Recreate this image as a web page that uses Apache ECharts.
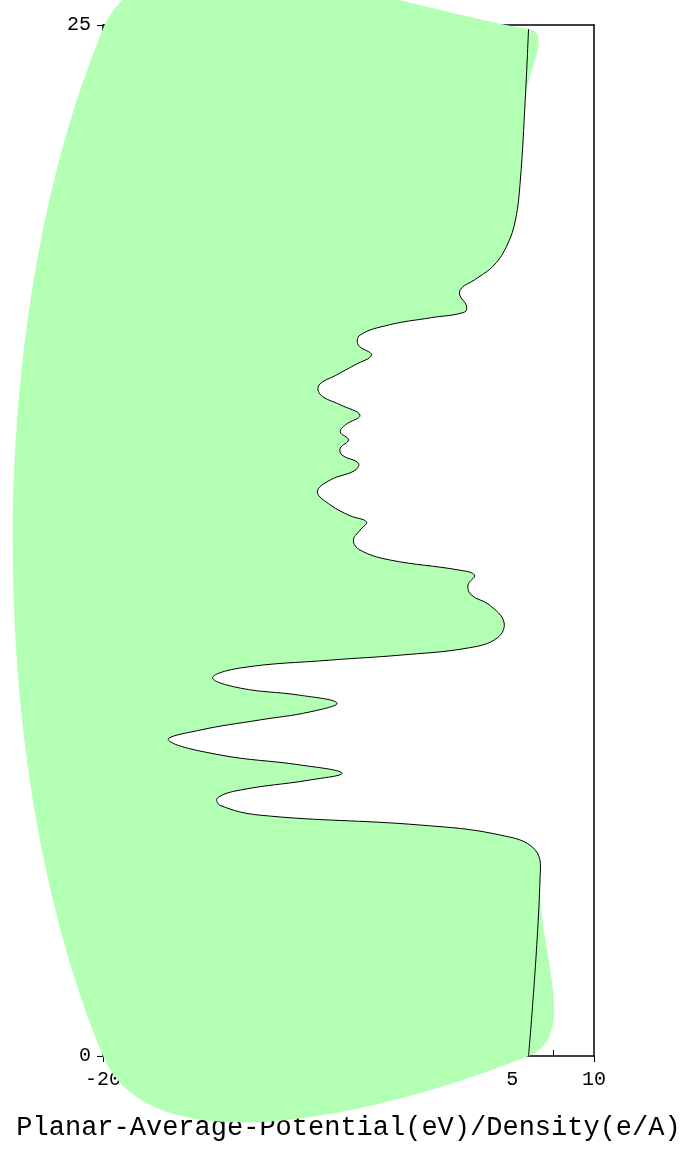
<!DOCTYPE html>
<html>
<head>
<meta charset="UTF-8" />
<script src="https://cdn.jsdelivr.net/npm/echarts@6/dist/echarts.min.js"></script>
<style>html,body{margin:0;padding:0;background:#fff}</style>
</head>
<body>
<div id="main" style="width:686px;height:1158px;"></div>
<script>
var chart = echarts.init(document.getElementById('main'));

// distance (A) and potential (eV)
var distance = [0, 4.27, 5.0, 5.36, 5.6, 5.84, 6.08, 6.26, 6.45, 6.69, 6.86, 7.06, 7.3, 7.66, 7.9, 8.15, 8.34, 8.56, 8.75, 8.92, 9.17, 9.41, 9.6, 9.72, 9.9, 10.14, 10.52, 10.94, 11.18, 11.42, 11.66, 11.78, 12.03, 12.27, 12.5, 12.75, 12.95, 13.1, 13.36, 13.68, 13.97, 14.2, 14.38, 14.57, 14.74, 14.94, 15.13, 15.3, 15.54, 15.79, 16.03, 16.27, 16.5, 16.76, 17.0, 17.24, 17.48, 17.73, 17.9, 18.04, 18.2, 18.45, 18.62, 18.82, 19.18, 19.67, 20.27, 21.24, 23.2, 24.9];
var potential = [6.0, 6.7, 6.4, 4.25, -0.6, -10.4, -12.85, -13.0, -11.6, -7.4, -5.4, -8.0, -12.85, -16.0, -14.1, -10.4, -7.4, -5.7, -8.0, -11.6, -13.3, -11.6, -6.1, -1.85, 2.4, 4.1, 4.5, 3.6, 2.5, 2.3, 2.7, 1.8, -2.5, -4.3, -4.7, -4.3, -3.9, -4.9, -6.1, -6.9, -6.1, -4.6, -4.4, -5.4, -5.5, -5.0, -5.5, -5.2, -4.3, -5.5, -6.7, -6.8, -5.8, -4.6, -3.6, -4.4, -4.3, -2.5, 0.0, 2.1, 2.2, 1.8, 1.9, 2.7, 3.9, 4.7, 5.2, 5.5, 5.8, 6.0];
var xTicks = [-20, -15, -10, -5, 0, 5, 10];
var yTicks = [0, 5, 10, 15, 20, 25];

var curve = distance.map(function (d, i) { return [potential[i], d]; });

var font = 'Liberation Mono';
var frame = { show: true, onZero: false, lineStyle: { color: '#000', width: 1.5 } };

chart.setOption({
  animation: false,
  grid: { left: 103, right: 92, top: 25, bottom: 102 },
  xAxis: [{
    type: 'value', min: xTicks[0], max: xTicks[xTicks.length - 1], interval: 5,
    name: 'Planar-Average-Potential(eV)/Density(e/A)', nameLocation: 'middle', nameGap: 58,
    nameTextStyle: { fontFamily: font, fontSize: 27, color: '#000' },
    axisLine: frame,
    axisTick: { length: 6, lineStyle: { color: '#000' } },
    minorTick: { show: true, splitNumber: 2, length: -6, lineStyle: { color: '#000' } },
    axisLabel: { fontFamily: font, fontSize: 20, color: '#000', margin: 14 },
    splitLine: { show: false }
  }, {
    type: 'value', position: 'top', min: -20, max: 10, interval: 5,
    axisLine: frame,
    axisTick: { show: false }, axisLabel: { show: false }, splitLine: { show: false }
  }],
  yAxis: [{
    type: 'value', min: yTicks[0], max: yTicks[yTicks.length - 1], interval: 5,
    name: '#Distance(A)', nameLocation: 'middle', nameGap: 58,
    nameTextStyle: { fontFamily: font, fontSize: 27, color: '#000' },
    axisLine: frame,
    axisTick: { length: 6, lineStyle: { color: '#000' } },
    minorTick: { show: true, splitNumber: 2, length: -6, lineStyle: { color: '#000' } },
    axisLabel: { fontFamily: font, fontSize: 20, color: '#000', margin: 12 },
    splitLine: { show: false }
  }, {
    type: 'value', position: 'right', min: 0, max: 25, interval: 5,
    axisLine: frame,
    axisTick: { show: false }, axisLabel: { show: false }, splitLine: { show: false }
  }],
  series: [{
    type: 'custom',
    data: [0],
    z: 1,
    renderItem: function (params, api) {
      var line = curve.map(function (p) { return api.coord(p); });
      var poly = [api.coord([-20, distance[0]])].concat(line, [api.coord([-20, distance[distance.length - 1]])]);
      return {
        type: 'group',
        children: [
          { type: 'polygon', shape: { points: poly, smooth: 0.4 }, style: { fill: '#b3ffb3', stroke: null } },
          { type: 'polyline', shape: { points: line, smooth: 0.4 }, style: { fill: null, stroke: '#000', lineWidth: 1 } }
        ]
      };
    }
  }]
});
</script>
</body>
</html>
